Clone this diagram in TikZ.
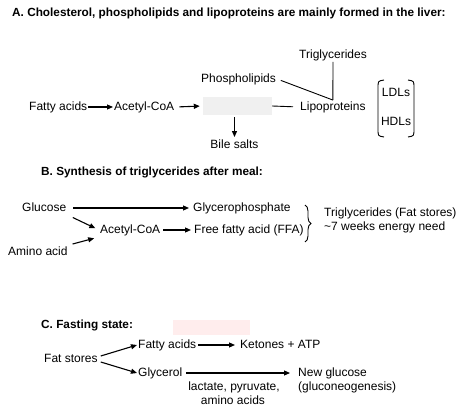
\documentclass[tikz,border=0pt]{standalone}
\usepackage{fontspec}
\setmainfont{Liberation Sans}
\usepackage{tikz}
\usetikzlibrary{arrows.meta,positioning,calc,decorations.pathreplacing}

\begin{document}
\begin{tikzpicture}[
  x=1pt, y=-1pt,
  lbl/.style={inner sep=1pt, font=\fontsize{12}{14}\selectfont,
              text height=9pt, text depth=2.5pt},
  ttl/.style={lbl, font=\fontsize{11.8}{14}\selectfont\bfseries, anchor=west},
  hidden/.style={inner sep=0pt},
  arr/.style={-{Triangle[length=6pt, width=5pt]}, line width=1.1pt},
  link/.style={line width=0.9pt}
]
\useasboundingbox (0,0) rectangle (474,414);

% A. liver
\node[ttl] (titleA) at (11,13) {A. Cholesterol, phospholipids and lipoproteins are mainly formed in the liver:};
\node[lbl] (trig) at (333,55) {Triglycerides};
\node[lbl, anchor=west] (phos) at (200,79) {Phospholipids};
\node[lbl, anchor=west] (fattyA) at (28,107) {Fatty acids};
\node[lbl, anchor=west] (acoaA) at (113,107) {Acetyl-CoA};
\node[hidden, fill=gray!12, minimum width=69pt, minimum height=18pt] (chol) at (237.5,106) {};
\node[lbl, anchor=west] (lipo) at (299,107) {Lipoproteins};
\node[lbl] (ldl) at (396,93) {LDLs};
\node[lbl] (hdl) at (396,122) {HDLs};
\node[lbl] (bile) at (234.5,145) {Bile salts};

\draw[arr] (fattyA.east) -- (acoaA.west);
\draw[arr, shorten <=4pt, shorten >=3pt] (acoaA.east) -- (chol.west);
\draw[link, shorten >=6pt] (chol.east) -- (lipo.west);
\draw[link] (trig) -- (lipo);
\draw[link, shorten <=4pt] (phos.east) -- (lipo.north);
\draw[arr, shorten <=2pt, shorten >=1pt] (chol.south -| bile.north) -- (bile.north);

% brackets round LDLs / HDLs
\draw[link] (384,80) .. controls (378,81) .. (378,88) -- (378,129) .. controls (378,136) .. (384,137);
\draw[link] (408,80) .. controls (414,81) .. (414,88) -- (414,129) .. controls (414,136) .. (408,137);

% B. after meal
\node[ttl] (titleB) at (40,172) {B. Synthesis of triglycerides after meal:};
\node[lbl, anchor=west] (glucose) at (21,208) {Glucose};
\node[lbl, anchor=west] (glyph) at (192,208) {Glycerophosphate};
\node[lbl, anchor=west] (acoaB) at (99,230) {Acetyl-CoA};
\node[lbl, anchor=west] (ffa) at (193,230) {Free fatty acid (FFA)};
\node[lbl, anchor=west] (amino) at (7,252) {Amino acid};
\node[lbl, anchor=west] (fatstore) at (323,213) {Triglycerides (Fat stores)};
\node[lbl, anchor=west] (weeks) at (323,227) {\textasciitilde 7 weeks energy need};

\draw[arr, shorten <=6pt, shorten >=3pt] (glucose.east) -- (glyph.west);
\draw[arr, shorten <=2pt, shorten >=2pt] (acoaB.east) -- (ffa.west);
\draw[arr, shorten <=6pt, shorten >=4pt] (glucose.south east) -- (acoaB.west);
\draw[arr, shorten <=4pt, shorten >=5pt] (amino.north east) -- (acoaB.south west);
\draw[link, decorate, decoration={brace, amplitude=6pt}] (305,205) -- (305,242);

% C. fasting
\node[ttl] (titleC) at (40,325) {C. Fasting state:};
\node[hidden, fill=red!7, minimum width=77pt, minimum height=15pt] (masked) at (211,327) {};
\node[lbl, anchor=west] (fat) at (43,359) {Fat stores};
\node[lbl, anchor=west] (fattyC) at (137,345) {Fatty acids};
\node[lbl, anchor=west] (glycerol) at (137,373) {Glycerol};
\node[lbl, anchor=west] (ketones) at (239,345) {Ketones + ATP};
\node[lbl, anchor=west] (newglu) at (297,373) {New glucose};
\node[lbl, anchor=west] (gneo) at (297,387) {(gluconeogenesis)};
\node[lbl] (lactate) at (234,387) {lactate, pyruvate,};
\node[lbl] (aminoC) at (233,401) {amino acids};

\draw[arr] ($(fat.east)+(2,-3)$) -- (fattyC.west);
\draw[arr] ($(fat.east)+(2,3)$) -- (glycerol.west);
\draw[arr, shorten <=1pt, shorten >=4pt] (fattyC.east) -- (ketones.west);
\draw[arr, shorten <=3pt, shorten >=7pt] (glycerol.east) -- (newglu.west);
\end{tikzpicture}
\end{document}
